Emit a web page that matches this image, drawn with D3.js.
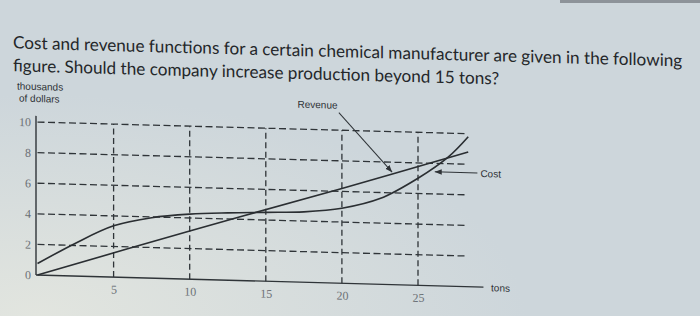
<!DOCTYPE html>
<html>
<head>
<meta charset="utf-8">
<script src="https://cdn.jsdelivr.net/npm/d3@7"></script>
<style>
  html, body { margin: 0; padding: 0; }
  body { width: 700px; height: 316px; overflow: hidden; }
  .tick-label { font-family: "Liberation Serif", "DejaVu Serif", serif; font-size: 12px; fill: #6c7176; }
  .note { font-family: "Liberation Sans Narrow", "Liberation Sans", Arial, sans-serif; font-size: 10px; fill: #2e3236; }
</style>
</head>
<body>
<svg width="700" height="316"></svg>
<script>

// chart values
var titleLines = [
  "Cost and revenue functions for a certain chemical manufacturer are given in the following",
  "figure. Should the company increase production beyond 15 tons?"
];
var xTicks = [5, 10, 15, 20, 25];
var yTicks = [0, 2, 4, 6, 8, 10];
var gridY = [2, 4, 6, 8, 10];

var costTons  = [0, 2.5, 5, 7.5, 10, 12.5, 15, 17.5, 20, 22.5, 25, 27, 28.3];
var costValue = [0.75, 2.15, 3.35, 3.95, 4.25, 4.4, 4.5, 4.6, 4.9, 5.6, 7.0, 8.45, 9.8];

var revenueTons  = [0, 10, 20, 28.3];
var revenueValue = [0, 3.15, 6.2, 8.8];

var svg = d3.select("svg"),
    width = +svg.attr("width"),
    height = +svg.attr("height");

// photo background
var defs = svg.append("defs");
var bg = defs.append("radialGradient").attr("id", "glare")
  .attr("cx", "0.05").attr("cy", "1").attr("r", "0.7");
bg.append("stop").attr("offset", "0%").attr("stop-color", "#e2e5df");
bg.append("stop").attr("offset", "100%").attr("stop-color", "#cdd6db");

defs.append("marker")
  .attr("id", "head")
  .attr("viewBox", "0 0 10 10")
  .attr("refX", 10).attr("refY", 5)
  .attr("markerWidth", 7).attr("markerHeight", 7)
  .attr("markerUnits", "userSpaceOnUse")
  .attr("orient", "auto-start-reverse")
  .append("path").attr("d", "M0,1 L10,5 L0,9 Z").attr("fill", "#2e3236");

svg.append("rect").attr("width", width).attr("height", height).attr("fill", "url(#glare)");
svg.append("rect").attr("x", 560).attr("y", 0).attr("width", 140).attr("height", 3).attr("fill", "#8d9399");

// the photo is slightly skewed, right side lower
var k = 0.027;
var g = svg.append("g").attr("transform", "matrix(1," + k + ",0,1,0," + (-k * 36) + ")");

// title
var title = g.append("g")
  .style("font-family", "Lato, 'Open Sans', sans-serif")
  .style("fill", "#24272a");
var t1 = title.append("text").attr("x", 13).attr("y", 49).style("font-size", "18px").text(titleLines[0]);
var fs = 18 * 670 / t1.node().getComputedTextLength();
t1.style("font-size", fs + "px");
title.append("text").attr("x", 13).attr("y", 72).style("font-size", fs + "px").text(titleLines[1]);

var x = d3.scaleLinear().domain([0, 25]).range([37.5, 418]);
var y = d3.scaleLinear().domain([0, 10]).range([275, 122]);

var ink = "#2f3438";

// dashed grid
g.append("g").selectAll("line").data(gridY).enter().append("line")
  .attr("x1", x(0)).attr("x2", x(28.2))
  .attr("y1", function(d) { return y(d); })
  .attr("y2", function(d) { return y(d); })
  .attr("stroke", ink).attr("stroke-width", 1.3).attr("stroke-dasharray", "7,3.5");

g.append("g").selectAll("line").data(xTicks).enter().append("line")
  .attr("x1", function(d) { return x(d); })
  .attr("x2", function(d) { return x(d); })
  .attr("y1", y(0)).attr("y2", y(10))
  .attr("stroke", ink).attr("stroke-width", 1.3).attr("stroke-dasharray", "6,3.5");

// axes lines
g.append("line").attr("x1", x(0) - 1.5).attr("x2", x(29.3)).attr("y1", y(0)).attr("y2", y(0))
  .attr("stroke", ink).attr("stroke-width", 1.4);
g.append("line").attr("x1", x(0) - 1.5).attr("x2", x(0) - 1.5).attr("y1", y(0)).attr("y2", y(10.4))
  .attr("stroke", ink).attr("stroke-width", 1.4);

// tick labels
var xAxis = g.append("g").attr("transform", "translate(0," + y(0) + ")")
  .call(d3.axisBottom(x).tickValues(xTicks).tickSize(0).tickPadding(8));
var yAxis = g.append("g").attr("transform", "translate(" + (x(0) - 1.5) + ",0)")
  .call(d3.axisLeft(y).tickValues(yTicks).tickSize(0).tickPadding(5));
[xAxis, yAxis].forEach(function(a) {
  a.select(".domain").remove();
  a.selectAll("text").attr("class", "tick-label").attr("fill", null)
    .style("font-family", null).style("font-size", null);
  a.attr("font-family", null).attr("font-size", null);
});

// curves
var line = d3.line()
  .x(function(d) { return x(d[0]); })
  .y(function(d) { return y(d[1]); })
  .curve(d3.curveCatmullRom.alpha(0.5));

g.append("path")
  .datum(costTons.map(function(t, i) { return [t, costValue[i]]; }))
  .attr("d", line).attr("fill", "none").attr("stroke", "#2a2e32").attr("stroke-width", 1.6);

g.append("path")
  .datum(revenueTons.map(function(t, i) { return [t, revenueValue[i]]; }))
  .attr("d", line).attr("fill", "none").attr("stroke", "#2a2e32").attr("stroke-width", 1.6);

// labels
g.append("text").attr("class", "note").attr("x", 17).attr("y", 90).text("thousands");
g.append("text").attr("class", "note").attr("x", 19).attr("y", 102).text("of dollars");
g.append("text").attr("class", "note").attr("x", x(29.8)).attr("y", y(0) + 4).text("tons");

g.append("text").attr("class", "note").attr("x", x(18.4)).attr("y", y(11.4))
  .attr("text-anchor", "middle").text("Revenue");
g.append("line")
  .attr("x1", x(19.8)).attr("y1", y(11.15))
  .attr("x2", x(23.3)).attr("y2", y(7.35))
  .attr("stroke", ink).attr("stroke-width", 1).attr("marker-end", "url(#head)");

g.append("text").attr("class", "note").attr("x", x(29.1)).attr("y", y(7.45) + 4).text("Cost");
g.append("line")
  .attr("x1", x(26.1)).attr("y1", y(7.45))
  .attr("x2", x(28.9)).attr("y2", y(7.45))
  .attr("stroke", ink).attr("stroke-width", 1).attr("marker-start", "url(#head)");

</script>
</body>
</html>
